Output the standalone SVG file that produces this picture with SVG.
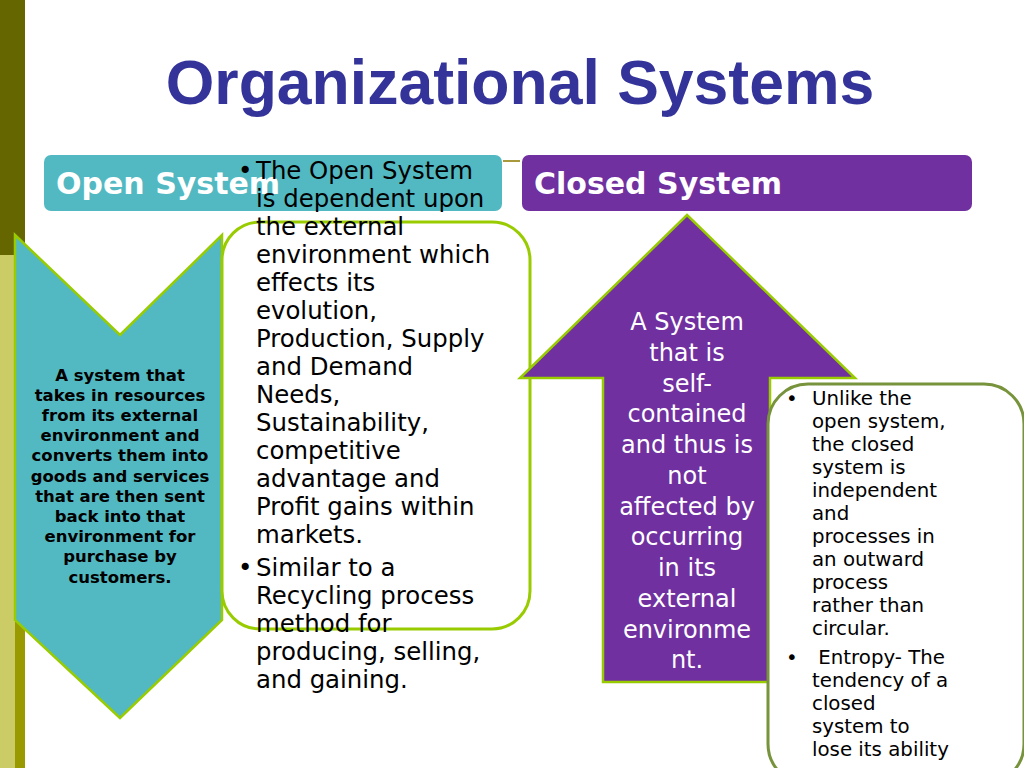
<svg xmlns="http://www.w3.org/2000/svg" width="1024" height="768" viewBox="0 0 1024 768">
<style>
.t{font-family:"DejaVu Sans",Verdana,sans-serif;fill:#000}
.m{font-size:24.4px}
.r{font-size:19.8px}
.l{font-size:16.5px;font-weight:bold;text-anchor:middle}
.a{font-size:24px;fill:#fff;text-anchor:middle}
.h{font-family:"DejaVu Sans",Verdana,sans-serif;font-weight:bold;font-size:30px;fill:#fff}
</style>
<rect width="1024" height="768" fill="#fff"/>
<rect x="0" y="0" width="25" height="255" fill="#666600"/>
<rect x="0" y="255" width="15" height="513" fill="#cccc66"/>
<rect x="15" y="255" width="10" height="513" fill="#999900"/>
<text x="520" y="104" text-anchor="middle" font-family="Liberation Sans,Arial,sans-serif" font-weight="bold" font-size="62.5" fill="#333399">Organizational Systems</text>
<line x1="503" y1="161" x2="520" y2="161" stroke="#a89a3c" stroke-width="2"/>
<g id="open-header"><rect x="44" y="155" width="458" height="56" rx="7" fill="#52b9c2"/><text class="h" x="56" y="194">Open System</text></g>
<g id="closed-header"><rect x="522" y="155" width="450" height="56" rx="7" fill="#7030a0"/><text class="h" x="534" y="194">Closed System</text></g>
<g id="open-arrow"><polygon points="15,235 120,335 222,235 222,620 120,718 15,620" fill="#52b9c2" stroke="#99cc00" stroke-width="2.5"/>
<text class="t l"><tspan x="120" y="381">A system that</tspan><tspan x="120" y="401">takes in resources</tspan><tspan x="120" y="421">from its external</tspan><tspan x="120" y="441">environment and</tspan><tspan x="120" y="461">converts them into</tspan><tspan x="120" y="482">goods and services</tspan><tspan x="120" y="502">that are then sent</tspan><tspan x="120" y="522">back into that</tspan><tspan x="120" y="542">environment for</tspan><tspan x="120" y="562">purchase by</tspan><tspan x="120" y="583">customers.</tspan></text></g>
<g id="open-box"><rect x="222" y="222" width="308" height="407" rx="38" fill="#fff" stroke="#99cc00" stroke-width="3"/>
<text class="t m"><tspan x="238" y="179">•</tspan><tspan x="256" y="179">The Open System</tspan><tspan x="256" y="207">is dependent upon</tspan><tspan x="256" y="235">the external</tspan><tspan x="256" y="263">environment which</tspan><tspan x="256" y="291">effects its</tspan><tspan x="256" y="319">evolution,</tspan><tspan x="256" y="347">Production, Supply</tspan><tspan x="256" y="375">and Demand</tspan><tspan x="256" y="403">Needs,</tspan><tspan x="256" y="431">Sustainability,</tspan><tspan x="256" y="459">competitive</tspan><tspan x="256" y="487">advantage and</tspan><tspan x="256" y="515">Profit gains within</tspan><tspan x="256" y="543">markets.</tspan><tspan x="238" y="576">•</tspan><tspan x="256" y="576">Similar to a</tspan><tspan x="256" y="604">Recycling process</tspan><tspan x="256" y="632">method for</tspan><tspan x="256" y="660">producing, selling,</tspan><tspan x="256" y="688">and gaining.</tspan></text></g>
<g id="closed-arrow"><polygon points="687,215 855,378 770,378 770,682 603,682 603,378 520,378" fill="#7030a0" stroke="#99cc00" stroke-width="2.5"/>
<text class="t a"><tspan x="687" y="330">A System</tspan><tspan x="687" y="361">that is</tspan><tspan x="687" y="392">self-</tspan><tspan x="687" y="422">contained</tspan><tspan x="687" y="453">and thus is</tspan><tspan x="687" y="484">not</tspan><tspan x="687" y="515">affected by</tspan><tspan x="687" y="545">occurring</tspan><tspan x="687" y="576">in its</tspan><tspan x="687" y="607">external</tspan><tspan x="687" y="638">environme</tspan><tspan x="687" y="668">nt.</tspan></text></g>
<g id="closed-box"><rect x="768" y="384" width="256" height="400" rx="40" fill="#fff" stroke="#77933c" stroke-width="3"/>
<text class="t r"><tspan x="786" y="405">•</tspan><tspan x="812" y="405">Unlike the</tspan><tspan x="812" y="428">open system,</tspan><tspan x="812" y="451">the closed</tspan><tspan x="812" y="474">system is</tspan><tspan x="812" y="497">independent</tspan><tspan x="812" y="520">and</tspan><tspan x="812" y="543">processes in</tspan><tspan x="812" y="566">an outward</tspan><tspan x="812" y="589">process</tspan><tspan x="812" y="612">rather than</tspan><tspan x="812" y="635">circular.</tspan><tspan x="786" y="664">•</tspan><tspan x="812" y="664"> Entropy- The</tspan><tspan x="812" y="687">tendency of a</tspan><tspan x="812" y="710">closed</tspan><tspan x="812" y="733">system to</tspan><tspan x="812" y="756">lose its ability</tspan></text></g>
</svg>
